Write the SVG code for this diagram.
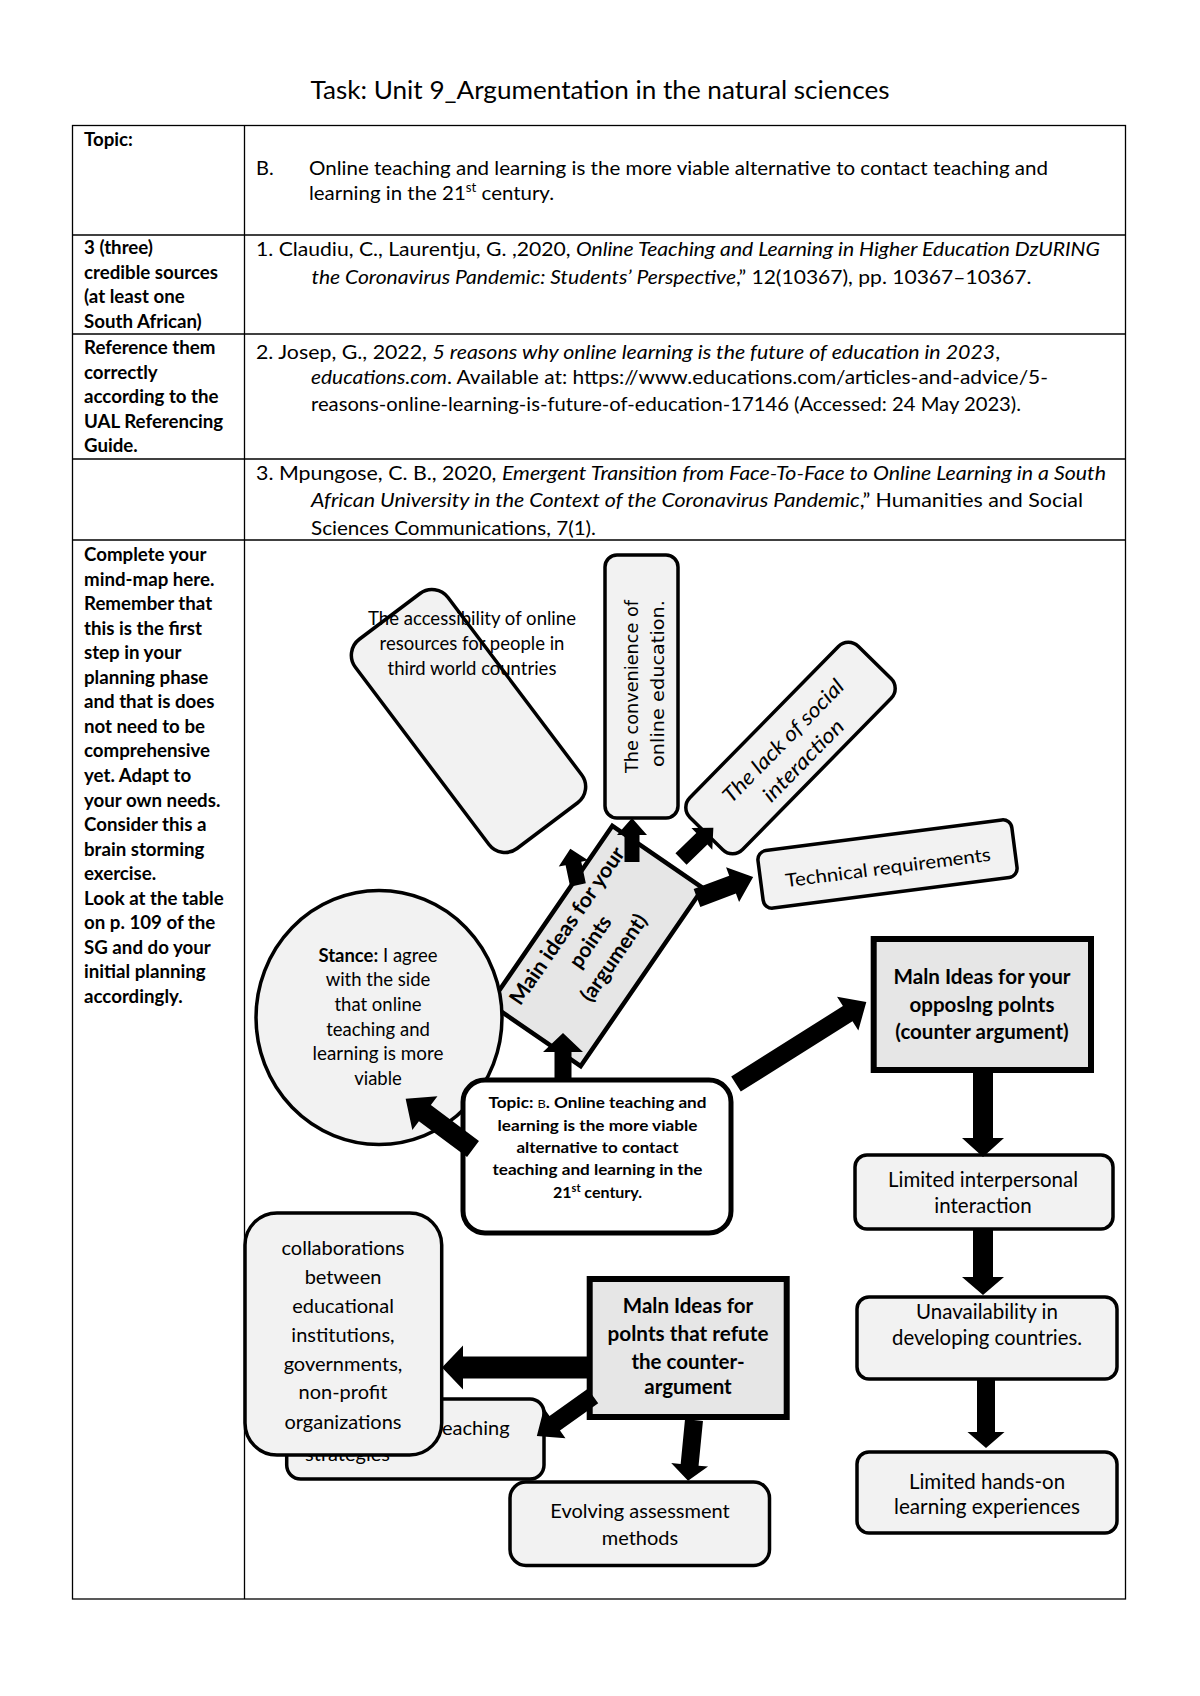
<svg xmlns="http://www.w3.org/2000/svg" width="1200" height="1696" viewBox="0 0 1200 1696">
<style>
text{font-family:Lato,"Liberation Sans",sans-serif;fill:#000}
.t20{font-size:20px}
.lb{font-size:18.7px;font-weight:bold}
.it{font-style:italic}
.b{font-weight:bold}
.box{fill:#f2f2f2;stroke:#000;stroke-width:3.5}
.dark{fill:#e6e6e6;stroke:#000}
.grid{fill:none;stroke:#000;stroke-width:1.3}
.arr{fill:#000}
.m18{font-size:18.5px;text-anchor:middle}
.m20{font-size:20px;text-anchor:middle}
.m205{font-size:20.5px;text-anchor:middle}
</style>
<rect width="1200" height="1696" fill="#fff"/>
<text x="600" y="99" font-size="25" text-anchor="middle" textLength="579" lengthAdjust="spacingAndGlyphs">Task: Unit 9_Argumentation in the natural sciences</text>
<g id="table">
<rect class="grid" x="72.5" y="125.5" width="1053" height="1473.5"/>
<line class="grid" x1="244.5" y1="125.5" x2="244.5" y2="1599"/>
<line class="grid" x1="72.5" y1="235" x2="1125.5" y2="235"/>
<line class="grid" x1="72.5" y1="334" x2="1125.5" y2="334"/>
<line class="grid" x1="72.5" y1="459" x2="1125.5" y2="459"/>
<line class="grid" x1="72.5" y1="540" x2="1125.5" y2="540"/>
<g id="leftcol" class="lb">
<text x="84" y="146">Topic:</text>
<text x="84" y="254">3 (three)</text>
<text x="84" y="278.5">credible sources</text>
<text x="84" y="303">(at least one</text>
<text x="84" y="327.5">South African)</text>
<text x="84" y="354">Reference them</text>
<text x="84" y="378.5">correctly</text>
<text x="84" y="403">according to the</text>
<text x="84" y="427.5">UAL Referencing</text>
<text x="84" y="452">Guide.</text>
<text x="84" y="561">Complete your</text>
<text x="84" y="585.55">mind-map here.</text>
<text x="84" y="610.1">Remember that</text>
<text x="84" y="634.65">this is the first</text>
<text x="84" y="659.2">step in your</text>
<text x="84" y="683.75">planning phase</text>
<text x="84" y="708.3">and that is does</text>
<text x="84" y="732.85">not need to be</text>
<text x="84" y="757.4">comprehensive</text>
<text x="84" y="781.95">yet. Adapt to</text>
<text x="84" y="806.5">your own needs.</text>
<text x="84" y="831.05">Consider this a</text>
<text x="84" y="855.6">brain storming</text>
<text x="84" y="880.15">exercise.</text>
<text x="84" y="904.7">Look at the table</text>
<text x="84" y="929.25">on p. 109 of the</text>
<text x="84" y="953.8">SG and do your</text>
<text x="84" y="978.35">initial planning</text>
<text x="84" y="1002.9">accordingly.</text>
</g>
<g id="rightcol" class="t20">
<text x="256" y="174.5">B.</text>
<text x="309" y="174.5" textLength="739" lengthAdjust="spacingAndGlyphs">Online teaching and learning is the more viable alternative to contact teaching and</text>
<text x="309" y="200" textLength="245" lengthAdjust="spacingAndGlyphs">learning in the 21<tspan font-size="13" dy="-8">st</tspan><tspan dy="8"> century.</tspan></text>
<text x="256" y="256" textLength="844" lengthAdjust="spacingAndGlyphs">1. Claudiu, C., Laurentju, G. ,2020, <tspan class="it">Online Teaching and Learning in Higher Education DzURING</tspan></text>
<text x="311.5" y="283.5" textLength="720" lengthAdjust="spacingAndGlyphs"><tspan class="it">the Coronavirus Pandemic: Students’ Perspective</tspan>,” 12(10367), pp. 10367–10367.</text>
<text x="256" y="358.5" textLength="744" lengthAdjust="spacingAndGlyphs">2.  Josep, G., 2022, <tspan class="it">5 reasons why online learning is the future of education in 2023</tspan>,</text>
<text x="311" y="383.5" textLength="737" lengthAdjust="spacingAndGlyphs"><tspan class="it">educations.com</tspan>. Available at: https://www.educations.com/articles-and-advice/5-</text>
<text x="311" y="411" textLength="710" lengthAdjust="spacingAndGlyphs">reasons-online-learning-is-future-of-education-17146 (Accessed: 24 May 2023).</text>
<text x="256" y="479.5" textLength="850" lengthAdjust="spacingAndGlyphs">3. Mpungose, C. B., 2020, <tspan class="it">Emergent Transition from Face-To-Face to Online Learning in a South</tspan></text>
<text x="311" y="507" textLength="772" lengthAdjust="spacingAndGlyphs"><tspan class="it">African University in the Context of the Coronavirus Pandemic</tspan>,” Humanities and Social</text>
<text x="311" y="534.5" textLength="285" lengthAdjust="spacingAndGlyphs">Sciences Communications, 7(1).</text>
</g>
</g>
<g id="nodes">
<g id="n-access">
<rect class="box" x="-131" y="-58" width="262" height="116" rx="20" transform="translate(468.5,721) rotate(53)"/>
<text class="m18" x="472" y="625" textLength="208" lengthAdjust="spacingAndGlyphs">The accessibility of online</text>
<text class="m18" x="472" y="650">resources for people in</text>
<text class="m18" x="472" y="675">third world countries</text>
</g>
<g id="n-convenience">
<rect class="box" x="605" y="555" width="73" height="263" rx="12"/>
<g transform="translate(641.5,686.5) rotate(-90)" font-size="17.5">
<text x="0" y="-3.5" text-anchor="middle" style="font-family:'DejaVu Sans',sans-serif" textLength="173" lengthAdjust="spacingAndGlyphs">The convenience of</text>
<text x="3" y="22.5" text-anchor="middle" style="font-family:'DejaVu Sans',sans-serif" textLength="167" lengthAdjust="spacingAndGlyphs">online education.</text>
</g>
</g>
<g id="n-lack">
<rect class="box" x="-120" y="-37" width="240" height="74" rx="14" transform="translate(790.5,748) rotate(-45.5)"/>
<g transform="translate(790.5,748) rotate(-45.5)" class="it" font-size="21" text-anchor="middle">
<text x="0" y="-3" textLength="163" lengthAdjust="spacingAndGlyphs">The lack of social</text>
<text x="0" y="25" textLength="106" lengthAdjust="spacingAndGlyphs">interaction</text>
</g>
</g>
<g id="n-tech">
<rect class="box" x="-128" y="-29" width="256" height="58" rx="9" transform="translate(887.5,864) rotate(-7.4)"/>
<text class="m18" x="0" y="10" transform="translate(887.5,864) rotate(-7.4)" textLength="207" lengthAdjust="spacingAndGlyphs">Technical requirements</text>
</g>
<g id="n-main">
<rect class="dark" stroke-width="4.5" x="-108" y="-55" width="216" height="110" transform="translate(596.5,946) rotate(-55.5)"/>
<g transform="translate(596.5,946) rotate(-55.5)" class="b" font-size="21" text-anchor="middle">
<text x="0" y="-28.5" textLength="186" lengthAdjust="spacingAndGlyphs">Main ideas for your</text>
<text x="0" y="-0.5">points</text>
<text x="0" y="28">(argument)</text>
</g>
</g>
<g id="n-stance">
<ellipse class="box" stroke-width="4" cx="379" cy="1017.5" rx="123" ry="127"/>
<text class="m18" x="378" y="962"><tspan class="b">Stance:</tspan> I agree</text>
<text class="m18" x="378" y="986">with the side</text>
<text class="m18" x="378" y="1011">that online</text>
<text class="m18" x="378" y="1036">teaching and</text>
<text class="m18" x="378" y="1060" textLength="131" lengthAdjust="spacingAndGlyphs">learning is more</text>
<text class="m18" x="378" y="1085">viable</text>
</g>
<g id="n-topic">
<rect x="463" y="1080" width="268" height="153" rx="22" fill="#fff" stroke="#000" stroke-width="5"/>
<g class="b" font-size="16" text-anchor="middle">
<text x="597.5" y="1108" textLength="218" lengthAdjust="spacingAndGlyphs">Topic: <tspan font-size="12" font-weight="normal">B</tspan>. Online teaching and</text>
<text x="597.5" y="1131" textLength="200" lengthAdjust="spacingAndGlyphs">learning is the more viable</text>
<text x="597.5" y="1153" textLength="162" lengthAdjust="spacingAndGlyphs">alternative to contact</text>
<text x="597.5" y="1175" textLength="210" lengthAdjust="spacingAndGlyphs">teaching and learning in the</text>
<text x="597.5" y="1198">21<tspan font-size="11" dy="-6">st</tspan><tspan dy="6"> century.</tspan></text>
</g>
</g>
<g id="n-counter">
<rect class="dark" stroke-width="6" x="873.7" y="939" width="217.3" height="131"/>
<g class="b" font-size="20.5" text-anchor="middle">
<text x="982" y="984" textLength="177" lengthAdjust="spacingAndGlyphs">Maln Ideas for your</text>
<text x="982" y="1011.5">opposlng polnts</text>
<text x="982" y="1039">(counter argument)</text>
</g>
</g>
<g id="n-limited1">
<rect class="box" x="855" y="1155" width="258" height="74" rx="12"/>
<text class="m205" x="983" y="1187" textLength="190" lengthAdjust="spacingAndGlyphs">Limited interpersonal</text>
<text class="m205" x="983" y="1213">interaction</text>
</g>
<g id="n-unavail">
<rect class="box" x="857" y="1297" width="260" height="82" rx="12"/>
<text class="m205" x="987" y="1319">Unavailability in</text>
<text class="m205" x="987" y="1345" textLength="190" lengthAdjust="spacingAndGlyphs">developing countries.</text>
</g>
<g id="n-handson">
<rect class="box" x="857" y="1452" width="260" height="81" rx="12"/>
<text class="m205" x="987" y="1489">Limited hands-on</text>
<text class="m205" x="987" y="1514" textLength="186" lengthAdjust="spacingAndGlyphs">learning experiences</text>
</g>
<g id="n-refute">
<rect class="dark" stroke-width="6" x="589.7" y="1279" width="197" height="138"/>
<g class="b" font-size="20.5" text-anchor="middle">
<text x="688" y="1313">Maln Ideas for</text>
<text x="688" y="1341" textLength="161" lengthAdjust="spacingAndGlyphs">polnts that refute</text>
<text x="688" y="1368.5">the counter-</text>
<text x="688" y="1394">argument</text>
</g>
</g>
<g id="n-teaching">
<rect class="box" x="286.7" y="1399" width="257.3" height="80" rx="14"/>
<text class="t20" x="442" y="1435">eaching</text>
<text class="t20" x="347.5" y="1461" text-anchor="middle">strategies</text>
</g>
<g id="n-collab">
<rect class="box" stroke-width="4" x="245" y="1213" width="196.7" height="242" rx="32"/>
<text class="m20" x="343" y="1255">collaborations</text>
<text class="m20" x="343" y="1284">between</text>
<text class="m20" x="343" y="1313">educational</text>
<text class="m20" x="343" y="1342">institutions,</text>
<text class="m20" x="343" y="1371">governments,</text>
<text class="m20" x="343" y="1399">non-profit</text>
<text class="m20" x="343" y="1429">organizations</text>
</g>
<g id="n-evolving">
<rect class="box" x="510" y="1482" width="259.5" height="83.5" rx="16"/>
<text class="m20" x="640" y="1518">Evolving assessment</text>
<text class="m20" x="640" y="1545">methods</text>
</g>
</g>
<g id="connectors" class="arr">
<path transform="translate(736,1084) rotate(-32.2)" d="M0,-9 L132,-9 L132,-20 L154,0 L132,20 L132,9 L0,9Z"/>
<path transform="translate(473,1149) rotate(-143.3)" d="M0,-10 L60,-10 L60,-21 L84,0 L60,21 L60,10 L0,10Z"/>
<path transform="translate(563,1082) rotate(-90)" d="M0,-8.5 L30,-8.5 L30,-20 L49,0 L30,20 L30,8.5 L0,8.5Z"/>
<path transform="translate(578,885) rotate(-102)" d="M0,-8 L22,-8 L22,-15 L37,0 L22,15 L22,8 L0,8Z"/>
<path transform="translate(632,862) rotate(-90)" d="M0,-7.5 L27,-7.5 L27,-15 L44,0 L27,15 L27,7.5 L0,7.5Z"/>
<path transform="translate(681,859) rotate(-44)" d="M0,-8 L29,-8 L29,-15 L45,0 L29,15 L29,8 L0,8Z"/>
<path transform="translate(697,898) rotate(-20.6)" d="M0,-9.5 L38,-9.5 L38,-18.5 L60,0 L38,18.5 L38,9.5 L0,9.5Z"/>
<path transform="translate(983,1073) rotate(90)" d="M0,-10 L65,-10 L65,-21 L84,0 L65,21 L65,10 L0,10Z"/>
<path transform="translate(983,1229) rotate(90)" d="M0,-10 L48,-10 L48,-21 L66,0 L48,21 L48,10 L0,10Z"/>
<path transform="translate(986,1379) rotate(90)" d="M0,-9 L53,-9 L53,-18.5 L69,0 L53,18.5 L53,9 L0,9Z"/>
<path transform="translate(590,1367.5) rotate(180)" d="M0,-11 L127,-11 L127,-22 L148,0 L127,22 L127,11 L0,11Z"/>
<path transform="translate(593,1396) rotate(144.5)" d="M0,-9 L47,-9 L47,-18.5 L69,0 L47,18.5 L47,9 L0,9Z"/>
<path transform="translate(694,1420) rotate(95.6)" d="M0,-9 L45,-9 L45,-18.5 L61,0 L45,18.5 L45,9 L0,9Z"/>
</g>
</svg>
